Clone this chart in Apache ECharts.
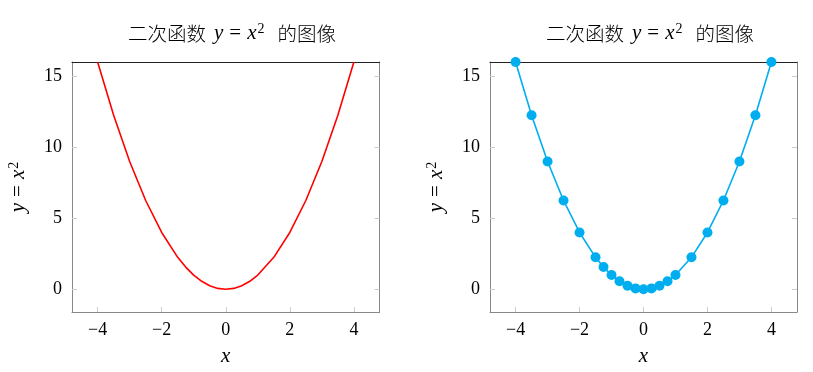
<!DOCTYPE html>
<html><head><meta charset="utf-8">
<script src="https://cdn.jsdelivr.net/npm/echarts@6/dist/echarts.min.js"></script>
<style>html,body{margin:0;padding:0;background:#fff}#c{width:813px;height:372px}</style>
</head><body><div id="c"></div>
<script>
var xTicks = [-4, -2, 0, 2, 4];
var yTicks = [0, 5, 10, 15];
var lineX = [-4,-3.5,-3,-2.5,-2,-1.5,-1.25,-1,-0.75,-0.5,-0.25,0,0.25,0.5,0.75,1,1.5,2,2.5,3,3.5,4];
var lineY = [16,12.25,9,6.25,4,2.25,1.5625,1,0.5625,0.25,0.0625,0,0.0625,0.25,0.5625,1,2.25,4,6.25,9,12.25,16];
var markX = [-4,-3.5,-3,-2.5,-2,-1.5,-1.25,-1,-0.75,-0.5,-0.25,0,0.25,0.5,0.75,1,1.5,2,2.5,3,3.5,4];
var markY = [16,12.25,9,6.25,4,2.25,1.5625,1,0.5625,0.25,0.0625,0,0.0625,0.25,0.5625,1,2.25,4,6.25,9,12.25,16];

var serif = 'Liberation Serif';
var cjk = 'Noto Sans CJK SC';
function fmt(v){ return v < 0 ? '\u2212' + Math.abs(v) : String(v); }

var titleRich = {
  cn: {fontFamily: cjk, fontSize: 19.5, fontWeight: 300, color: '#000'},
  m: {fontFamily: serif, fontStyle: 'italic', fontSize: 21, fontWeight: 'normal', color: '#000'},
  r: {fontFamily: serif, fontSize: 21, fontWeight: 'normal', color: '#000'},
  s1: {fontSize: 10, width: 8},
  s2: {fontSize: 10, width: 6},
  s3: {fontSize: 10, width: 13},
  sup: {fontFamily: serif, fontSize: 14, fontWeight: 'normal', color: '#000', verticalAlign: 'top', padding: [0,0,9,1]}
};
var titleText = '{cn|二次函数}{s1| }{m|y}{s2| }{r|=}{s2| }{m|x}{sup|2}{s3| }{cn|的图像}';
var yNameText = '{m|y}{s2| }{r|=}{s2| }{m|x}{sup|2}';

var grids = [
  {left: 72, top: 62, width: 307.5, height: 253},
  {left: 490, top: 62, width: 307, height: 253}
];

function xAxes(i){
  return [{
    type: 'value', gridIndex: i, min: -4.8, max: 4.8,
    axisLine: {show: true, onZero: false, lineStyle: {color: '#888', width: 1}},
    axisTick: {show: true, inside: true, length: 5, lineStyle: {color: '#ccc'}, customValues: xTicks},
    axisLabel: {fontFamily: serif, fontSize: 18, color: '#000', margin: 9,
      customValues: xTicks, formatter: function(v){ return fmt(v); }},
    splitLine: {show: false},
    name: 'x', nameLocation: 'middle', nameGap: 34,
    nameTextStyle: {fontFamily: serif, fontStyle: 'italic', fontSize: 21, color: '#000'}
  }, {
    type: 'value', gridIndex: i, min: -4.8, max: 4.8, position: 'top',
    axisLine: {show: true, onZero: false, lineStyle: {color: '#222', width: 1}},
    axisTick: {show: false}, axisLabel: {show: false}, splitLine: {show: false}
  }];
}
function yAxes(i){
  return [{
    type: 'value', gridIndex: i, min: -1.6, max: 16,
    axisLine: {show: true, onZero: false, lineStyle: {color: '#888', width: 1}},
    axisTick: {show: true, inside: true, length: 5, lineStyle: {color: '#ccc'},
      customValues: yTicks},
    axisLabel: {fontFamily: serif, fontSize: 18, color: '#000', margin: 10,
      customValues: yTicks, formatter: function(v){ return fmt(v); }},
    splitLine: {show: false},
    name: yNameText, nameLocation: 'middle', nameGap: 42, nameRotate: 90,
    nameTextStyle: {rich: titleRich}
  }, {
    type: 'value', gridIndex: i, min: -1.6, max: 16, position: 'right',
    axisLine: {show: true, onZero: false, lineStyle: {color: '#888', width: 1}},
    axisTick: {show: true, inside: true, length: 5, lineStyle: {color: '#ccc'},
      customValues: yTicks},
    axisLabel: {show: false}, splitLine: {show: false}
  }];
}

function pairs(xs, ys){ return xs.map(function(x, k){ return [x, ys[k]]; }); }

var chart = echarts.init(document.getElementById('c'), null, {renderer: 'canvas'});
chart.setOption({
  backgroundColor: '#fff',
  animation: false,
  title: [
    {text: titleText, left: 227, top: 17, textAlign: 'center', textStyle: {rich: titleRich, fontWeight: 'normal'}},
    {text: titleText, left: 645, top: 17, textAlign: 'center', textStyle: {rich: titleRich, fontWeight: 'normal'}}
  ],
  grid: grids,
  xAxis: xAxes(0).concat(xAxes(1)),
  yAxis: yAxes(0).concat(yAxes(1)),
  series: [{
    type: 'line', xAxisIndex: 0, yAxisIndex: 0, data: pairs(lineX, lineY),
    showSymbol: false, lineStyle: {color: '#ff0000', width: 1.6}, clip: true
  }, {
    type: 'line', xAxisIndex: 2, yAxisIndex: 2, data: pairs(markX, markY),
    symbol: 'circle', symbolSize: 10, showSymbol: true, clip: false,
    itemStyle: {color: '#00aeef'},
    lineStyle: {color: '#00aeef', width: 1.6}
  }]
});
</script></body></html>
